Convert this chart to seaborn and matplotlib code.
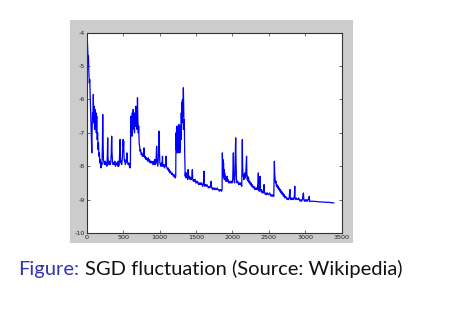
import numpy as np
import pandas as pd
import seaborn as sns
import matplotlib
matplotlib.use("Agg")
import matplotlib.pyplot as plt
from matplotlib.patches import Rectangle

# ---- data ----
iters = [0, 6, 12, 18, 24, 30, 36, 42, 48, 54, 60, 66, 70, 74, 80, 86, 91, 96, 102, 108, 114, 120, 126, 132, 138, 144, 150, 156, 162, 168, 174, 180, 186, 192, 198, 204, 210, 216, 220, 224, 230, 238, 246, 254, 262, 270, 278, 284, 288, 292, 298, 306, 314, 322, 330, 337, 343, 348, 354, 362, 370, 378, 386, 394, 402, 410, 418, 426, 432, 438, 446, 452, 458, 462, 468, 474, 480, 488, 494, 500, 504, 508, 512, 518, 524, 530, 538, 546, 552, 556, 562, 570, 578, 586, 594, 600,
         604, 608, 614, 620, 626, 632, 638, 644, 650, 656, 662, 668, 674, 680, 686, 692, 697, 702, 708, 714, 720, 726, 732, 740, 748, 756, 764, 772, 780, 786, 790, 798, 806, 814, 822, 830, 838, 846, 854, 862, 870, 878, 886, 894, 902, 910, 918, 926, 934, 942, 950, 956, 960, 964, 970, 976, 982, 988, 993, 998,
         1004, 1010, 1018, 1026, 1034, 1040, 1044, 1052, 1060, 1068, 1076, 1084, 1090, 1094, 1102, 1110, 1118, 1126, 1134, 1142, 1150, 1158, 1166, 1174, 1182, 1190, 1198, 1206, 1214, 1222, 1226, 1230, 1234, 1238, 1242, 1246, 1250, 1254, 1258, 1262, 1266, 1270, 1274, 1278, 1282, 1286, 1290, 1294, 1298, 1302, 1306, 1310, 1314, 1318, 1322, 1327, 1332, 1336, 1340, 1344, 1348, 1352, 1356, 1362, 1368, 1374, 1380, 1386, 1392, 1398,
         1404, 1412, 1420, 1428, 1436, 1444, 1450, 1456, 1464, 1472, 1480, 1488, 1496, 1504, 1512, 1520, 1528, 1536, 1544, 1552, 1560, 1568, 1576, 1584, 1592, 1600, 1606, 1610, 1614, 1622, 1630, 1640, 1650, 1660, 1670, 1680, 1690, 1700, 1708, 1714, 1722, 1730, 1740, 1750, 1760, 1770, 1780, 1790, 1800, 1810, 1820, 1830, 1840, 1850, 1858, 1862, 1866, 1870, 1874, 1878, 1882, 1886, 1890, 1894, 1898, 1904, 1910, 1916, 1922, 1928, 1934, 1940, 1948, 1956, 1964, 1972, 1980, 1988, 1996,
         2004, 2008, 2013, 2018, 2024, 2030, 2036, 2040, 2045, 2050, 2056, 2064, 2072, 2080, 2088, 2096, 2104, 2112, 2120, 2128, 2132, 2136, 2140, 2146, 2152, 2158, 2164, 2170, 2176, 2182, 2188, 2194, 2198, 2204, 2210, 2216, 2222, 2230, 2238, 2246, 2254, 2262, 2270, 2278, 2286, 2294, 2302, 2310, 2318, 2326, 2334, 2342, 2350, 2356, 2360, 2368, 2374, 2380, 2384, 2392,
         2400, 2408, 2416, 2424, 2430, 2434, 2438, 2446, 2454, 2462, 2470, 2480, 2490, 2500, 2510, 2520, 2530, 2540, 2550, 2560, 2568, 2572, 2576, 2580, 2586, 2592, 2598, 2604, 2612, 2620, 2628, 2636, 2644, 2652, 2660, 2668, 2676, 2684, 2692, 2700, 2710, 2720, 2730, 2740, 2750, 2760, 2770, 2780, 2786, 2790, 2794,
         2802, 2810, 2820, 2830, 2840, 2850, 2856, 2860, 2870, 2880, 2890, 2900, 2910, 2920, 2930, 2940, 2950, 2960, 2970, 2975, 2980, 2990, 3000, 3010, 3020, 3030, 3040, 3050, 3055, 3060, 3070, 3080, 3120, 3160, 3200, 3240, 3280, 3320, 3360, 3390]

log_loss = [-4.25, -4.15, -4.4, -4.8, -4.7, -5.2, -5.5, -5.4, -5.9, -6.3, -6.8, -7.3, -7.6, -6.9, -6.4, -6.6, -5.85, -6.7, -6.2, -6.9, -6.3, -6.8, -6.4, -7.0, -6.5, -7.2, -7.0, -7.5, -7.3, -7.7, -7.6, -7.9, -7.8, -8.0, -8.05, -7.9, -7.95, -7.3, -6.45, -7.2, -7.8, -7.9, -7.95, -7.85, -7.95, -7.9, -8.0, -7.6, -7.15, -7.7, -7.9, -7.95, -7.85, -7.95, -7.9, -7.6, -7.1, -7.6, -7.85, -7.95, -7.9, -7.95, -7.85, -8.0, -7.95, -7.9, -7.95, -8.0, -7.85, -8.0, -7.95, -7.6, -7.2, -7.7, -7.9, -7.85, -7.95, -7.8, -7.5, -7.2, -7.4, -7.25, -7.7, -7.85, -7.8, -7.95, -7.9, -7.85, -7.6, -7.8, -7.9, -7.95, -7.9, -8.0, -8.05, -7.95,
            -6.5, -7.0, -6.6, -7.1, -6.4, -6.9, -6.3, -6.8, -6.5, -7.0, -6.4, -6.8, -6.2, -6.7, -6.5, -6.9, -5.95, -6.6, -7.0, -6.8, -7.3, -7.4, -7.55, -7.5, -7.65, -7.6, -7.7, -7.65, -7.7, -7.45, -7.7, -7.75, -7.7, -7.8, -7.75, -7.8, -7.85, -7.75, -7.85, -7.8, -7.9, -7.85, -7.9, -7.85, -7.9, -7.95, -7.85, -7.95, -7.8, -7.95, -7.9, -7.6, -7.4, -7.8, -7.9, -8.0, -7.8, -7.3, -6.95, -7.5,
            -7.9, -7.95, -8.0, -7.9, -8.0, -7.7, -7.95, -8.0, -7.95, -8.05, -8.0, -7.9, -7.7, -8.0, -8.05, -8.1, -8.05, -8.15, -8.1, -8.2, -8.15, -8.2, -8.25, -8.2, -8.25, -8.3, -8.25, -8.3, -8.35, -8.3, -7.0, -7.5, -6.8, -7.6, -6.9, -7.3, -6.8, -7.6, -6.9, -7.4, -6.75, -7.5, -6.9, -7.6, -7.0, -7.5, -6.8, -7.2, -6.4, -6.9, -6.1, -6.7, -6.0, -6.5, -6.1, -5.65, -6.4, -6.9, -6.6, -7.5, -7.9, -8.3, -8.2, -8.35, -8.2, -8.3, -8.25, -8.4, -8.1, -8.3,
            -8.35, -8.3, -8.4, -8.35, -8.4, -8.3, -8.1, -8.4, -8.45, -8.4, -8.45, -8.4, -8.5, -8.45, -8.5, -8.45, -8.5, -8.55, -8.5, -8.55, -8.5, -8.55, -8.5, -8.55, -8.6, -8.55, -8.35, -8.15, -8.5, -8.6, -8.55, -8.6, -8.55, -8.6, -8.65, -8.6, -8.65, -8.6, -8.45, -8.65, -8.65, -8.7, -8.65, -8.7, -8.65, -8.7, -8.7, -8.65, -8.7, -8.7, -8.75, -8.7, -8.7, -8.75, -8.7, -7.6, -8.0, -7.8, -8.3, -7.9, -8.35, -8.1, -8.4, -8.2, -8.4, -8.3, -8.45, -8.4, -8.45, -8.3, -8.45, -8.4, -8.5, -8.45, -8.5, -8.45, -8.5, -8.45, -8.5,
            -8.4, -8.0, -7.6, -8.2, -8.45, -8.5, -8.2, -7.6, -7.15, -7.9, -8.4, -8.5, -8.45, -8.5, -8.55, -8.5, -8.55, -8.5, -8.55, -8.6, -7.8, -7.2, -8.0, -8.3, -8.25, -8.4, -8.3, -8.2, -8.35, -8.3, -8.0, -7.7, -8.2, -8.4, -8.3, -8.45, -8.35, -8.5, -8.45, -8.55, -8.5, -8.6, -8.55, -8.6, -8.65, -8.6, -8.65, -8.7, -8.65, -8.7, -8.65, -8.7, -8.5, -8.2, -8.65, -8.75, -8.6, -8.3, -8.7, -8.75,
            -8.7, -8.8, -8.75, -8.8, -8.7, -8.55, -8.8, -8.8, -8.85, -8.8, -8.85, -8.8, -8.85, -8.85, -8.8, -8.85, -8.9, -8.85, -8.9, -8.85, -8.9, -8.3, -7.85, -8.2, -8.4, -8.5, -8.45, -8.6, -8.55, -8.65, -8.6, -8.7, -8.65, -8.75, -8.7, -8.8, -8.75, -8.85, -8.8, -8.9, -8.85, -8.95, -8.9, -8.95, -9.0, -8.95, -9.0, -8.95, -8.75, -8.7, -8.95,
            -9.0, -8.95, -9.0, -8.95, -9.0, -8.9, -8.6, -8.95, -9.0, -8.95, -9.0, -9.0, -8.95, -9.0, -9.05, -9.0, -9.05, -9.0, -8.85, -8.8, -9.0, -9.05, -9.0, -9.05, -9.0, -9.05, -9.0, -8.95, -8.9, -9.05, -9.05, -9.05, -9.05, -9.06, -9.07, -9.07, -9.08, -9.08, -9.09, -9.1]

x_ticks = [0, 500, 1000, 1500, 2000, 2500, 3000, 3500]
y_ticks = [-10, -9, -8, -7, -6, -5, -4]
caption_label = "Figure:"
caption_text = "SGD fluctuation (Source: Wikipedia)"

df = pd.DataFrame({"iteration": iters, "loss": log_loss})

W, H = 462, 324
fig = plt.figure(figsize=(W / 100, H / 100), dpi=100)
fig.patch.set_facecolor("white")

# grey MATLAB-style figure panel (drawn beneath the axes)
fig.patches.append(Rectangle((70 / W, 1 - 243 / H), 283 / W, 223 / H,
                             transform=fig.transFigure, facecolor="#cccccc",
                             edgecolor="none", zorder=-5))

ax = fig.add_axes([86.7 / W, 1 - 233 / H, 255 / W, 200.3 / H])
ax.set_zorder(2)
ax.set_facecolor("white")
sns.lineplot(data=df, x="iteration", y="loss", ax=ax, color="#0000ff",
             linewidth=0.9, estimator=None, sort=False)

ax.set_xlim(0, 3500)
ax.set_ylim(-10, -4)
ax.set_xticks(x_ticks)
ax.set_yticks(y_ticks)
ax.set_xticklabels([str(t) for t in x_ticks])
ax.set_yticklabels([str(t) for t in y_ticks])
ax.set_xlabel("")
ax.set_ylabel("")
for s in ax.spines.values():
    s.set_color("#333333")
    s.set_linewidth(0.8)
ax.tick_params(direction="in", length=2.5, width=0.5, colors="#333333",
               labelsize=4.6, pad=1.5, top=True, right=True,
               labelcolor="#222222")

# caption
txt = fig.text(85 / W, 1 - 275 / H, caption_text, fontsize=14,
               family="Lato", color="#111111", ha="left", va="baseline")
fig.canvas.draw()
bb = txt.get_window_extent()
target = 320.0
txt.set_fontsize(14 * target / bb.width)
fs = txt.get_fontsize()
fig.text(79 / W, 1 - 275 / H, caption_label, fontsize=fs, family="Lato",
         color="#3333b3", ha="right", va="baseline")

fig.savefig("out.png", dpi=100, facecolor="white")
